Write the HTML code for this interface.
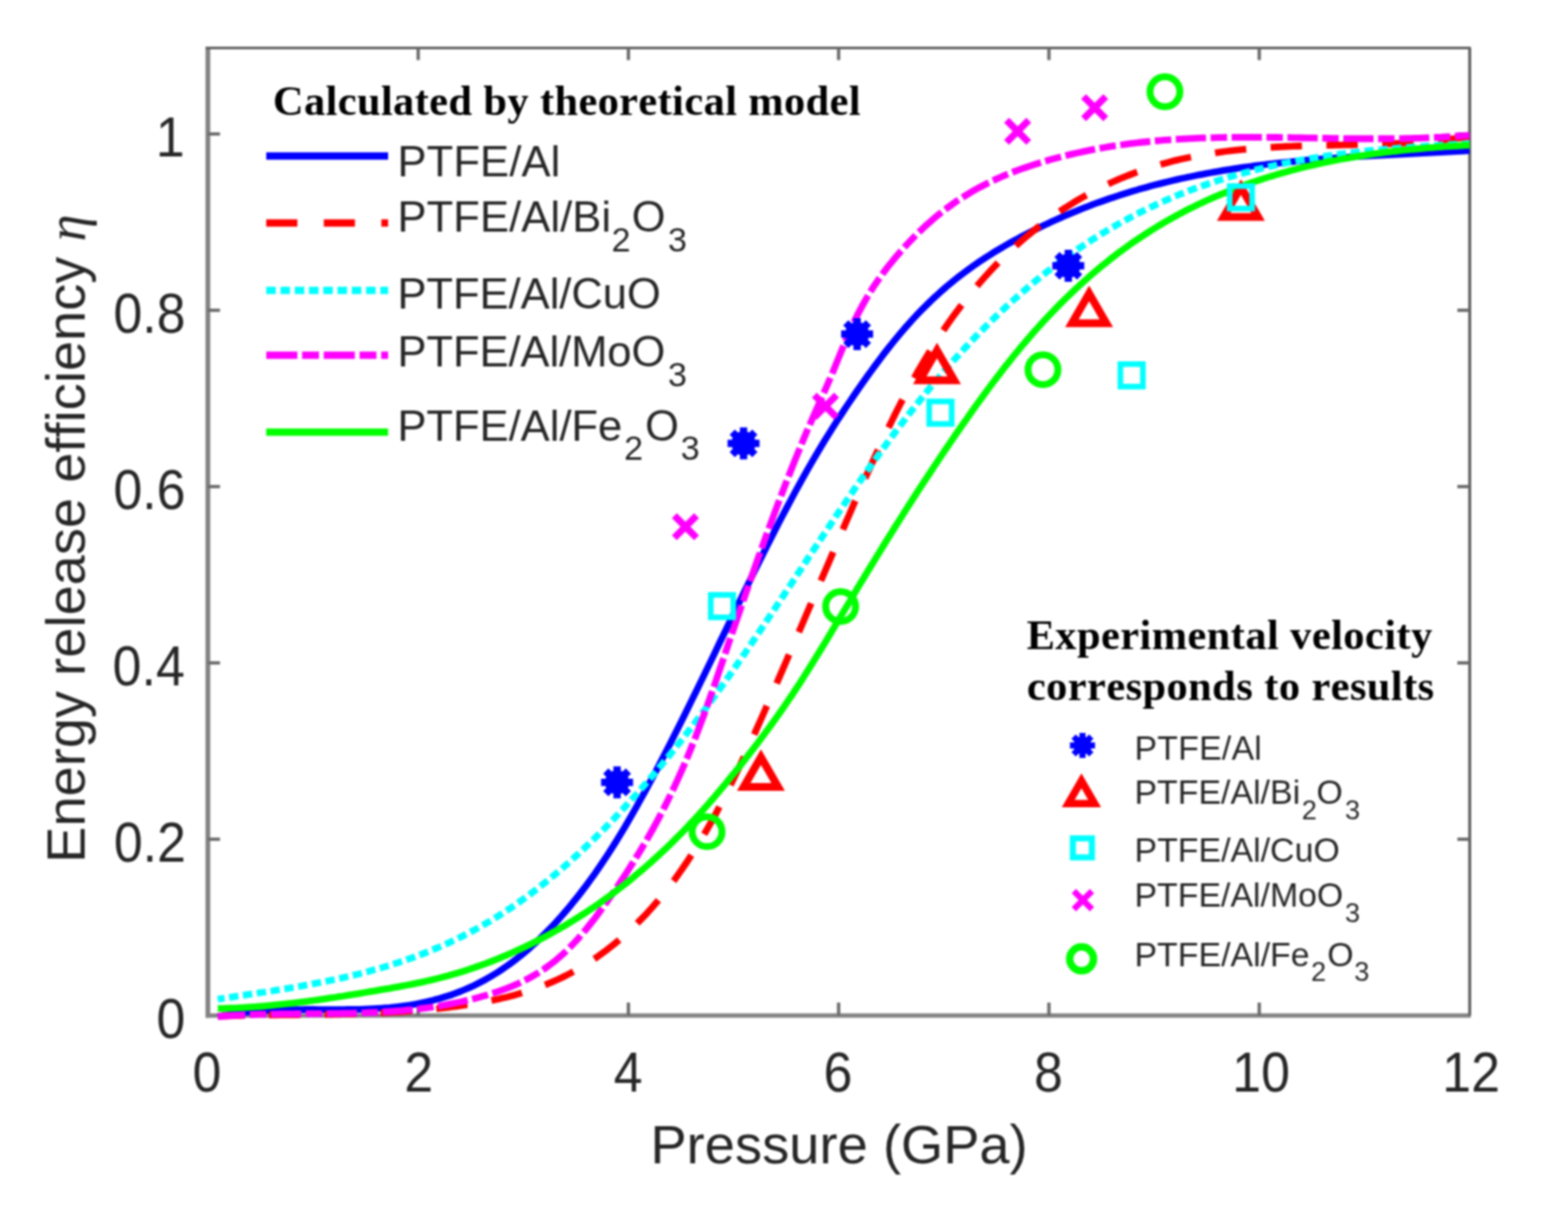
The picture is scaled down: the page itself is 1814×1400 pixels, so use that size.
<!DOCTYPE html><html><head><meta charset="utf-8"><title>Energy release efficiency</title>
<style>html,body{margin:0;padding:0;background:#fff;}svg{display:block;}#w{filter:blur(0.8px);}text{font-kerning:none;font-variant-ligatures:none;}.t{font-family:"Liberation Sans",Arial,Helvetica,sans-serif;fill:#262626;}.b{font-family:"Liberation Serif","Times New Roman",serif;font-weight:bold;fill:#000;}</style></head><body>
<div id="w">
<svg width="1814" height="1400" viewBox="0 0 1814 1400">
<rect x="0" y="0" width="1814" height="1400" fill="#fff"/>
<g fill="none">
<line x1="240.5" y1="54.0" x2="240.5" y2="1177.5" stroke="#828282" stroke-width="5.5"/>
<line x1="238.0" y1="1175.0" x2="1701.5" y2="1175.0" stroke="#828282" stroke-width="5"/>
<line x1="238.0" y1="55.5" x2="1701.5" y2="55.5" stroke="#5e5e5e" stroke-width="3.2"/>
<line x1="1700.3" y1="55.5" x2="1700.3" y2="1175.0" stroke="#5e5e5e" stroke-width="3.4"/>
<g stroke="#6a6a6a" stroke-width="3.8">
<line x1="483.8" y1="1175.0" x2="483.8" y2="1160.0"/>
<line x1="483.8" y1="55.5" x2="483.8" y2="69.5"/>
<line x1="727.0" y1="1175.0" x2="727.0" y2="1160.0"/>
<line x1="727.0" y1="55.5" x2="727.0" y2="69.5"/>
<line x1="970.2" y1="1175.0" x2="970.2" y2="1160.0"/>
<line x1="970.2" y1="55.5" x2="970.2" y2="69.5"/>
<line x1="1213.5" y1="1175.0" x2="1213.5" y2="1160.0"/>
<line x1="1213.5" y1="55.5" x2="1213.5" y2="69.5"/>
<line x1="1456.8" y1="1175.0" x2="1456.8" y2="1160.0"/>
<line x1="1456.8" y1="55.5" x2="1456.8" y2="69.5"/>
<line x1="240.5" y1="971.0" x2="254.5" y2="971.0"/>
<line x1="1700.0" y1="971.0" x2="1686.0" y2="971.0"/>
<line x1="240.5" y1="767.0" x2="254.5" y2="767.0"/>
<line x1="1700.0" y1="767.0" x2="1686.0" y2="767.0"/>
<line x1="240.5" y1="563.0" x2="254.5" y2="563.0"/>
<line x1="1700.0" y1="563.0" x2="1686.0" y2="563.0"/>
<line x1="240.5" y1="359.0" x2="254.5" y2="359.0"/>
<line x1="1700.0" y1="359.0" x2="1686.0" y2="359.0"/>
<line x1="240.5" y1="155.0" x2="254.5" y2="155.0"/>
<line x1="1700.0" y1="155.0" x2="1686.0" y2="155.0"/>
</g></g>
<g fill="none" stroke-linejoin="round">
<path d="M252.0,1176.5 L256.8,1175.5 L261.7,1174.5 L266.5,1173.7 L271.4,1172.9 L276.2,1172.2 L281.1,1171.6 L285.9,1171.0 L290.7,1170.5 L295.6,1170.1 L300.4,1169.7 L305.3,1169.3 L310.1,1169.1 L315.0,1168.8 L319.8,1168.6 L324.6,1168.4 L329.5,1168.3 L334.3,1168.2 L339.2,1168.1 L344.0,1168.1 L348.9,1168.1 L353.7,1168.0 L358.5,1168.0 L363.4,1168.0 L368.2,1168.1 L373.1,1168.1 L377.9,1168.1 L382.8,1168.1 L387.6,1168.1 L392.4,1168.1 L397.3,1168.1 L402.1,1168.0 L407.0,1168.0 L411.8,1167.9 L416.7,1167.8 L421.5,1167.6 L426.3,1167.4 L431.2,1167.2 L436.0,1166.9 L440.9,1166.6 L445.7,1166.2 L450.6,1165.8 L455.4,1165.3 L460.2,1164.8 L465.1,1164.2 L469.9,1163.5 L474.8,1162.8 L479.6,1162.0 L484.5,1161.1 L489.3,1160.1 L494.1,1159.0 L499.0,1157.9 L503.8,1156.6 L508.7,1155.3 L513.5,1153.8 L518.4,1152.3 L523.2,1150.7 L528.0,1148.9 L532.9,1147.0 L537.7,1145.0 L542.6,1142.9 L547.4,1140.7 L552.3,1138.3 L557.1,1135.8 L561.9,1133.2 L566.8,1130.4 L571.6,1127.5 L576.5,1124.5 L581.3,1121.3 L586.2,1117.9 L591.0,1114.5 L595.8,1110.8 L600.7,1107.0 L605.5,1103.1 L610.4,1099.0 L615.2,1094.7 L620.1,1090.3 L624.9,1085.8 L629.7,1081.0 L634.6,1076.1 L639.4,1071.1 L644.3,1065.9 L649.1,1060.5 L654.0,1054.9 L658.8,1049.2 L663.6,1043.3 L668.5,1037.2 L673.3,1031.0 L678.2,1024.6 L683.0,1018.0 L687.9,1011.2 L692.7,1004.3 L697.5,997.1 L702.4,989.8 L707.2,982.3 L712.1,974.6 L716.9,966.7 L721.8,958.7 L726.6,950.5 L731.4,942.1 L736.3,933.6 L741.1,924.9 L746.0,916.1 L750.8,907.2 L755.7,898.2 L760.5,889.0 L765.3,879.7 L770.2,870.4 L775.0,860.9 L779.9,851.3 L784.7,841.7 L789.6,832.0 L794.4,822.2 L799.2,812.4 L804.1,802.5 L808.9,792.6 L813.8,782.6 L818.6,772.6 L823.5,762.6 L828.3,752.6 L833.1,742.5 L838.0,732.5 L842.8,722.5 L847.7,712.4 L852.5,702.4 L857.4,692.5 L862.2,682.5 L867.0,672.6 L871.9,662.8 L876.7,653.0 L881.6,643.3 L886.4,633.6 L891.3,624.0 L896.1,614.5 L900.9,605.1 L905.8,595.8 L910.6,586.6 L915.5,577.5 L920.3,568.5 L925.2,559.7 L930.0,550.9 L934.8,542.4 L939.7,533.9 L944.5,525.7 L949.4,517.6 L954.2,509.6 L959.1,501.7 L963.9,494.0 L968.7,486.5 L973.6,479.0 L978.4,471.6 L983.3,464.4 L988.1,457.3 L992.9,450.2 L997.8,443.3 L1002.6,436.4 L1007.5,429.7 L1012.3,423.1 L1017.2,416.6 L1022.0,410.2 L1026.8,404.0 L1031.7,397.9 L1036.5,391.9 L1041.4,386.1 L1046.2,380.4 L1051.1,374.9 L1055.9,369.5 L1060.7,364.3 L1065.6,359.3 L1070.4,354.4 L1075.3,349.6 L1080.1,345.0 L1085.0,340.6 L1089.8,336.2 L1094.6,332.0 L1099.5,328.0 L1104.3,324.0 L1109.2,320.2 L1114.0,316.5 L1118.9,312.8 L1123.7,309.3 L1128.5,305.9 L1133.4,302.6 L1138.2,299.4 L1143.1,296.3 L1147.9,293.2 L1152.8,290.2 L1157.6,287.3 L1162.4,284.5 L1167.3,281.7 L1172.1,279.0 L1177.0,276.4 L1181.8,273.8 L1186.7,271.2 L1191.5,268.7 L1196.3,266.3 L1201.2,263.9 L1206.0,261.5 L1210.9,259.2 L1215.7,256.9 L1220.6,254.7 L1225.4,252.6 L1230.2,250.4 L1235.1,248.3 L1239.9,246.3 L1244.8,244.3 L1249.6,242.3 L1254.5,240.4 L1259.3,238.6 L1264.1,236.7 L1269.0,234.9 L1273.8,233.2 L1278.7,231.5 L1283.5,229.8 L1288.4,228.2 L1293.2,226.6 L1298.0,225.0 L1302.9,223.5 L1307.7,222.0 L1312.6,220.6 L1317.4,219.1 L1322.3,217.8 L1327.1,216.4 L1331.9,215.1 L1336.8,213.8 L1341.6,212.6 L1346.5,211.4 L1351.3,210.2 L1356.2,209.0 L1361.0,207.9 L1365.8,206.8 L1370.7,205.8 L1375.5,204.7 L1380.4,203.7 L1385.2,202.7 L1390.1,201.8 L1394.9,200.9 L1399.7,200.0 L1404.6,199.1 L1409.4,198.3 L1414.3,197.4 L1419.1,196.6 L1424.0,195.9 L1428.8,195.1 L1433.6,194.4 L1438.5,193.7 L1443.3,193.0 L1448.2,192.4 L1453.0,191.7 L1457.9,191.1 L1462.7,190.5 L1467.5,189.9 L1472.4,189.4 L1477.2,188.8 L1482.1,188.3 L1486.9,187.8 L1491.8,187.3 L1496.6,186.8 L1501.4,186.3 L1506.3,185.9 L1511.1,185.5 L1516.0,185.0 L1520.8,184.6 L1525.7,184.2 L1530.5,183.9 L1535.3,183.5 L1540.2,183.1 L1545.0,182.8 L1549.9,182.5 L1554.7,182.1 L1559.6,181.8 L1564.4,181.5 L1569.2,181.2 L1574.1,180.9 L1578.9,180.6 L1583.8,180.3 L1588.6,180.1 L1593.5,179.8 L1598.3,179.5 L1603.1,179.3 L1608.0,179.0 L1612.8,178.8 L1617.7,178.5 L1622.5,178.3 L1627.4,178.0 L1632.2,177.8 L1637.0,177.6 L1641.9,177.3 L1646.7,177.1 L1651.6,176.8 L1656.4,176.6 L1661.3,176.3 L1666.1,176.1 L1670.9,175.8 L1675.8,175.6 L1680.6,175.3 L1685.5,175.1 L1690.3,174.8 L1695.2,174.5 L1700.0,174.2" stroke="#0000ff" stroke-width="7.8"/>
<path d="M252.0,1175.8 L256.8,1175.6 L261.7,1175.4 L266.5,1175.3 L271.4,1175.2 L276.2,1175.0 L281.1,1174.9 L285.9,1174.8 L290.7,1174.7 L295.6,1174.6 L300.4,1174.6 L305.3,1174.5 L310.1,1174.4 L315.0,1174.4 L319.8,1174.3 L324.6,1174.2 L329.5,1174.2 L334.3,1174.1 L339.2,1174.1 L344.0,1174.0 L348.9,1174.0 L353.7,1173.9 L358.5,1173.9 L363.4,1173.8 L368.2,1173.7 L373.1,1173.7 L377.9,1173.6 L382.8,1173.5 L387.6,1173.4 L392.4,1173.3 L397.3,1173.2 L402.1,1173.1 L407.0,1173.0 L411.8,1172.9 L416.7,1172.7 L421.5,1172.6 L426.3,1172.4 L431.2,1172.2 L436.0,1172.0 L440.9,1171.8 L445.7,1171.6 L450.6,1171.3 L455.4,1171.1 L460.2,1170.8 L465.1,1170.5 L469.9,1170.1 L474.8,1169.8 L479.6,1169.4 L484.5,1169.0 L489.3,1168.6 L494.1,1168.2 L499.0,1167.7 L503.8,1167.2 L508.7,1166.7 L513.5,1166.1 L518.4,1165.6 L523.2,1165.0 L528.0,1164.3 L532.9,1163.7 L537.7,1163.0 L542.6,1162.2 L547.4,1161.5 L552.3,1160.7 L557.1,1159.8 L561.9,1158.9 L566.8,1158.0 L571.6,1157.0 L576.5,1156.0 L581.3,1154.8 L586.2,1153.7 L591.0,1152.5 L595.8,1151.2 L600.7,1149.8 L605.5,1148.3 L610.4,1146.8 L615.2,1145.2 L620.1,1143.5 L624.9,1141.7 L629.7,1139.9 L634.6,1137.9 L639.4,1135.9 L644.3,1133.7 L649.1,1131.4 L654.0,1129.1 L658.8,1126.6 L663.6,1124.0 L668.5,1121.3 L673.3,1118.5 L678.2,1115.5 L683.0,1112.4 L687.9,1109.2 L692.7,1105.9 L697.5,1102.4 L702.4,1098.8 L707.2,1095.0 L712.1,1091.1 L716.9,1087.1 L721.8,1082.8 L726.6,1078.5 L731.4,1073.9 L736.3,1069.2 L741.1,1064.3 L746.0,1059.3 L750.8,1054.0 L755.7,1048.6 L760.5,1042.9 L765.3,1037.1 L770.2,1031.1 L775.0,1024.8 L779.9,1018.4 L784.7,1011.7 L789.6,1004.8 L794.4,997.7 L799.2,990.3 L804.1,982.7 L808.9,974.9 L813.8,966.8 L818.6,958.5 L823.5,949.9 L828.3,941.1 L833.1,931.9 L838.0,922.6 L842.8,913.0 L847.7,903.1 L852.5,893.1 L857.4,882.9 L862.2,872.5 L867.0,861.9 L871.9,851.2 L876.7,840.4 L881.6,829.5 L886.4,818.5 L891.3,807.4 L896.1,796.3 L900.9,785.1 L905.8,773.9 L910.6,762.7 L915.5,751.5 L920.3,740.2 L925.2,729.0 L930.0,717.8 L934.8,706.5 L939.7,695.2 L944.5,684.0 L949.4,672.7 L954.2,661.4 L959.1,650.1 L963.9,638.7 L968.7,627.4 L973.6,616.1 L978.4,604.9 L983.3,593.7 L988.1,582.5 L992.9,571.4 L997.8,560.4 L1002.6,549.5 L1007.5,538.8 L1012.3,528.1 L1017.2,517.6 L1022.0,507.3 L1026.8,497.1 L1031.7,487.1 L1036.5,477.3 L1041.4,467.8 L1046.2,458.4 L1051.1,449.3 L1055.9,440.5 L1060.7,431.8 L1065.6,423.4 L1070.4,415.2 L1075.3,407.3 L1080.1,399.5 L1085.0,392.0 L1089.8,384.7 L1094.6,377.5 L1099.5,370.6 L1104.3,363.8 L1109.2,357.3 L1114.0,350.9 L1118.9,344.7 L1123.7,338.7 L1128.5,332.9 L1133.4,327.2 L1138.2,321.7 L1143.1,316.3 L1147.9,311.1 L1152.8,306.0 L1157.6,301.1 L1162.4,296.3 L1167.3,291.7 L1172.1,287.2 L1177.0,282.8 L1181.8,278.6 L1186.7,274.4 L1191.5,270.4 L1196.3,266.5 L1201.2,262.6 L1206.0,258.9 L1210.9,255.3 L1215.7,251.8 L1220.6,248.4 L1225.4,245.1 L1230.2,241.8 L1235.1,238.7 L1239.9,235.7 L1244.8,232.7 L1249.6,229.8 L1254.5,227.1 L1259.3,224.4 L1264.1,221.8 L1269.0,219.3 L1273.8,216.8 L1278.7,214.5 L1283.5,212.2 L1288.4,210.0 L1293.2,207.9 L1298.0,205.8 L1302.9,203.9 L1307.7,202.0 L1312.6,200.1 L1317.4,198.4 L1322.3,196.7 L1327.1,195.1 L1331.9,193.5 L1336.8,192.0 L1341.6,190.6 L1346.5,189.2 L1351.3,187.9 L1356.2,186.6 L1361.0,185.4 L1365.8,184.3 L1370.7,183.2 L1375.5,182.2 L1380.4,181.2 L1385.2,180.2 L1390.1,179.4 L1394.9,178.5 L1399.7,177.7 L1404.6,177.0 L1409.4,176.3 L1414.3,175.6 L1419.1,175.0 L1424.0,174.4 L1428.8,173.8 L1433.6,173.3 L1438.5,172.8 L1443.3,172.4 L1448.2,171.9 L1453.0,171.6 L1457.9,171.2 L1462.7,170.9 L1467.5,170.5 L1472.4,170.3 L1477.2,170.0 L1482.1,169.8 L1486.9,169.5 L1491.8,169.3 L1496.6,169.1 L1501.4,169.0 L1506.3,168.8 L1511.1,168.7 L1516.0,168.5 L1520.8,168.4 L1525.7,168.3 L1530.5,168.2 L1535.3,168.1 L1540.2,168.0 L1545.0,167.9 L1549.9,167.8 L1554.7,167.7 L1559.6,167.6 L1564.4,167.5 L1569.2,167.4 L1574.1,167.3 L1578.9,167.2 L1583.8,167.1 L1588.6,166.9 L1593.5,166.8 L1598.3,166.6 L1603.1,166.5 L1608.0,166.3 L1612.8,166.1 L1617.7,165.8 L1622.5,165.6 L1627.4,165.3 L1632.2,165.0 L1637.0,164.7 L1641.9,164.4 L1646.7,164.0 L1651.6,163.6 L1656.4,163.2 L1661.3,162.8 L1666.1,162.3 L1670.9,161.8 L1675.8,161.2 L1680.6,160.6 L1685.5,160.0 L1690.3,159.3 L1695.2,158.6 L1700.0,157.9" stroke="#ff0000" stroke-width="7.8" stroke-dasharray="36.3 28.3" stroke-dashoffset="5.42"/>
<path d="M252.0,1156.1 L256.8,1155.3 L261.7,1154.6 L266.5,1153.9 L271.4,1153.1 L276.2,1152.4 L281.1,1151.7 L285.9,1150.9 L290.7,1150.2 L295.6,1149.5 L300.4,1148.7 L305.3,1148.0 L310.1,1147.2 L315.0,1146.5 L319.8,1145.7 L324.6,1144.9 L329.5,1144.1 L334.3,1143.3 L339.2,1142.5 L344.0,1141.7 L348.9,1140.8 L353.7,1139.9 L358.5,1139.1 L363.4,1138.1 L368.2,1137.2 L373.1,1136.3 L377.9,1135.3 L382.8,1134.3 L387.6,1133.3 L392.4,1132.2 L397.3,1131.1 L402.1,1130.0 L407.0,1128.9 L411.8,1127.7 L416.7,1126.5 L421.5,1125.2 L426.3,1124.0 L431.2,1122.6 L436.0,1121.3 L440.9,1119.9 L445.7,1118.4 L450.6,1117.0 L455.4,1115.4 L460.2,1113.9 L465.1,1112.3 L469.9,1110.6 L474.8,1108.9 L479.6,1107.2 L484.5,1105.3 L489.3,1103.5 L494.1,1101.6 L499.0,1099.6 L503.8,1097.6 L508.7,1095.5 L513.5,1093.4 L518.4,1091.2 L523.2,1088.9 L528.0,1086.6 L532.9,1084.3 L537.7,1081.8 L542.6,1079.3 L547.4,1076.7 L552.3,1074.1 L557.1,1071.4 L561.9,1068.6 L566.8,1065.8 L571.6,1062.8 L576.5,1059.8 L581.3,1056.8 L586.2,1053.6 L591.0,1050.4 L595.8,1047.1 L600.7,1043.7 L605.5,1040.3 L610.4,1036.8 L615.2,1033.1 L620.1,1029.5 L624.9,1025.7 L629.7,1021.9 L634.6,1018.0 L639.4,1014.0 L644.3,1009.9 L649.1,1005.8 L654.0,1001.6 L658.8,997.3 L663.6,992.9 L668.5,988.5 L673.3,984.0 L678.2,979.4 L683.0,974.8 L687.9,970.0 L692.7,965.3 L697.5,960.4 L702.4,955.5 L707.2,950.5 L712.1,945.4 L716.9,940.2 L721.8,935.0 L726.6,929.7 L731.4,924.4 L736.3,919.0 L741.1,913.5 L746.0,907.9 L750.8,902.3 L755.7,896.6 L760.5,890.9 L765.3,885.0 L770.2,879.1 L775.0,873.2 L779.9,867.2 L784.7,861.1 L789.6,854.9 L794.4,848.7 L799.2,842.4 L804.1,836.1 L808.9,829.6 L813.8,823.2 L818.6,816.6 L823.5,810.0 L828.3,803.4 L833.1,796.6 L838.0,789.8 L842.8,783.0 L847.7,776.1 L852.5,769.1 L857.4,762.1 L862.2,755.1 L867.0,748.0 L871.9,740.8 L876.7,733.7 L881.6,726.4 L886.4,719.2 L891.3,711.9 L896.1,704.7 L900.9,697.4 L905.8,690.0 L910.6,682.7 L915.5,675.4 L920.3,668.0 L925.2,660.7 L930.0,653.3 L934.8,646.0 L939.7,638.6 L944.5,631.3 L949.4,624.0 L954.2,616.7 L959.1,609.5 L963.9,602.2 L968.7,595.0 L973.6,587.8 L978.4,580.7 L983.3,573.6 L988.1,566.5 L992.9,559.5 L997.8,552.5 L1002.6,545.6 L1007.5,538.8 L1012.3,532.0 L1017.2,525.2 L1022.0,518.6 L1026.8,512.0 L1031.7,505.4 L1036.5,498.9 L1041.4,492.5 L1046.2,486.2 L1051.1,479.9 L1055.9,473.7 L1060.7,467.6 L1065.6,461.5 L1070.4,455.5 L1075.3,449.6 L1080.1,443.8 L1085.0,438.1 L1089.8,432.4 L1094.6,426.8 L1099.5,421.3 L1104.3,415.8 L1109.2,410.5 L1114.0,405.2 L1118.9,400.0 L1123.7,394.8 L1128.5,389.8 L1133.4,384.8 L1138.2,379.9 L1143.1,375.0 L1147.9,370.3 L1152.8,365.6 L1157.6,360.9 L1162.4,356.4 L1167.3,351.9 L1172.1,347.5 L1177.0,343.2 L1181.8,338.9 L1186.7,334.7 L1191.5,330.6 L1196.3,326.6 L1201.2,322.6 L1206.0,318.7 L1210.9,314.8 L1215.7,311.1 L1220.6,307.4 L1225.4,303.7 L1230.2,300.2 L1235.1,296.7 L1239.9,293.2 L1244.8,289.8 L1249.6,286.5 L1254.5,283.3 L1259.3,280.1 L1264.1,277.0 L1269.0,273.9 L1273.8,270.9 L1278.7,268.0 L1283.5,265.1 L1288.4,262.3 L1293.2,259.5 L1298.0,256.8 L1302.9,254.2 L1307.7,251.6 L1312.6,249.0 L1317.4,246.5 L1322.3,244.1 L1327.1,241.7 L1331.9,239.4 L1336.8,237.1 L1341.6,234.9 L1346.5,232.7 L1351.3,230.6 L1356.2,228.5 L1361.0,226.5 L1365.8,224.5 L1370.7,222.6 L1375.5,220.7 L1380.4,218.9 L1385.2,217.1 L1390.1,215.4 L1394.9,213.7 L1399.7,212.0 L1404.6,210.4 L1409.4,208.8 L1414.3,207.3 L1419.1,205.8 L1424.0,204.3 L1428.8,202.9 L1433.6,201.5 L1438.5,200.2 L1443.3,198.9 L1448.2,197.6 L1453.0,196.4 L1457.9,195.2 L1462.7,194.1 L1467.5,192.9 L1472.4,191.9 L1477.2,190.8 L1482.1,189.8 L1486.9,188.8 L1491.8,187.8 L1496.6,186.9 L1501.4,186.0 L1506.3,185.1 L1511.1,184.3 L1516.0,183.4 L1520.8,182.7 L1525.7,181.9 L1530.5,181.1 L1535.3,180.4 L1540.2,179.7 L1545.0,179.1 L1549.9,178.4 L1554.7,177.8 L1559.6,177.2 L1564.4,176.6 L1569.2,176.1 L1574.1,175.5 L1578.9,175.0 L1583.8,174.5 L1588.6,174.0 L1593.5,173.5 L1598.3,173.1 L1603.1,172.6 L1608.0,172.2 L1612.8,171.8 L1617.7,171.4 L1622.5,171.0 L1627.4,170.6 L1632.2,170.3 L1637.0,169.9 L1641.9,169.6 L1646.7,169.3 L1651.6,169.0 L1656.4,168.6 L1661.3,168.3 L1666.1,168.0 L1670.9,167.7 L1675.8,167.5 L1680.6,167.2 L1685.5,166.9 L1690.3,166.6 L1695.2,166.4 L1700.0,166.1" stroke="#00ffff" stroke-width="7.8" stroke-dasharray="10.77 5.38" stroke-dashoffset="2.87"/>
<path d="M252.0,1176.2 L256.8,1175.8 L261.7,1175.5 L266.5,1175.2 L271.4,1174.9 L276.2,1174.6 L281.1,1174.4 L285.9,1174.2 L290.7,1174.0 L295.6,1173.8 L300.4,1173.7 L305.3,1173.6 L310.1,1173.5 L315.0,1173.4 L319.8,1173.3 L324.6,1173.2 L329.5,1173.1 L334.3,1173.1 L339.2,1173.1 L344.0,1173.0 L348.9,1173.0 L353.7,1172.9 L358.5,1172.9 L363.4,1172.9 L368.2,1172.8 L373.1,1172.8 L377.9,1172.8 L382.8,1172.7 L387.6,1172.7 L392.4,1172.6 L397.3,1172.5 L402.1,1172.4 L407.0,1172.3 L411.8,1172.2 L416.7,1172.0 L421.5,1171.9 L426.3,1171.7 L431.2,1171.5 L436.0,1171.3 L440.9,1171.0 L445.7,1170.7 L450.6,1170.4 L455.4,1170.1 L460.2,1169.7 L465.1,1169.3 L469.9,1168.8 L474.8,1168.4 L479.6,1167.9 L484.5,1167.3 L489.3,1166.7 L494.1,1166.1 L499.0,1165.4 L503.8,1164.6 L508.7,1163.9 L513.5,1163.0 L518.4,1162.1 L523.2,1161.2 L528.0,1160.2 L532.9,1159.2 L537.7,1158.1 L542.6,1156.9 L547.4,1155.7 L552.3,1154.4 L557.1,1153.1 L561.9,1151.7 L566.8,1150.2 L571.6,1148.7 L576.5,1147.1 L581.3,1145.4 L586.2,1143.6 L591.0,1141.7 L595.8,1139.6 L600.7,1137.5 L605.5,1135.1 L610.4,1132.7 L615.2,1130.0 L620.1,1127.2 L624.9,1124.2 L629.7,1121.0 L634.6,1117.5 L639.4,1113.9 L644.3,1109.9 L649.1,1105.8 L654.0,1101.3 L658.8,1096.6 L663.6,1091.6 L668.5,1086.4 L673.3,1080.8 L678.2,1075.0 L683.0,1069.0 L687.9,1062.8 L692.7,1056.4 L697.5,1049.7 L702.4,1043.0 L707.2,1036.0 L712.1,1029.0 L716.9,1021.8 L721.8,1014.4 L726.6,1007.0 L731.4,999.4 L736.3,991.6 L741.1,983.7 L746.0,975.5 L750.8,967.1 L755.7,958.5 L760.5,949.6 L765.3,940.4 L770.2,930.9 L775.0,921.1 L779.9,910.9 L784.7,900.4 L789.6,889.5 L794.4,878.1 L799.2,866.4 L804.1,854.3 L808.9,841.6 L813.8,828.6 L818.6,815.2 L823.5,801.4 L828.3,787.5 L833.1,773.3 L838.0,759.1 L842.8,744.8 L847.7,730.6 L852.5,716.4 L857.4,702.3 L862.2,688.3 L867.0,674.4 L871.9,660.6 L876.7,646.9 L881.6,633.3 L886.4,619.9 L891.3,606.6 L896.1,593.5 L900.9,580.6 L905.8,567.8 L910.6,555.3 L915.5,543.0 L920.3,530.9 L925.2,519.0 L930.0,507.3 L934.8,496.0 L939.7,484.8 L944.5,473.9 L949.4,463.0 L954.2,452.0 L959.1,440.8 L963.9,429.4 L968.7,417.6 L973.6,405.7 L978.4,394.1 L983.3,382.8 L988.1,372.3 L992.9,362.5 L997.8,353.3 L1002.6,344.8 L1007.5,336.7 L1012.3,329.2 L1017.2,322.2 L1022.0,315.5 L1026.8,309.1 L1031.7,303.1 L1036.5,297.2 L1041.4,291.6 L1046.2,286.1 L1051.1,280.9 L1055.9,275.8 L1060.7,270.9 L1065.6,266.2 L1070.4,261.7 L1075.3,257.3 L1080.1,253.1 L1085.0,249.1 L1089.8,245.2 L1094.6,241.5 L1099.5,238.0 L1104.3,234.5 L1109.2,231.2 L1114.0,228.1 L1118.9,225.1 L1123.7,222.2 L1128.5,219.4 L1133.4,216.7 L1138.2,214.2 L1143.1,211.7 L1147.9,209.4 L1152.8,207.1 L1157.6,205.0 L1162.4,202.9 L1167.3,200.9 L1172.1,199.0 L1177.0,197.2 L1181.8,195.4 L1186.7,193.7 L1191.5,192.1 L1196.3,190.5 L1201.2,189.0 L1206.0,187.5 L1210.9,186.0 L1215.7,184.6 L1220.6,183.3 L1225.4,182.0 L1230.2,180.7 L1235.1,179.5 L1239.9,178.4 L1244.8,177.2 L1249.6,176.2 L1254.5,175.1 L1259.3,174.1 L1264.1,173.2 L1269.0,172.2 L1273.8,171.4 L1278.7,170.5 L1283.5,169.7 L1288.4,168.9 L1293.2,168.2 L1298.0,167.5 L1302.9,166.8 L1307.7,166.2 L1312.6,165.6 L1317.4,165.0 L1322.3,164.5 L1327.1,164.0 L1331.9,163.5 L1336.8,163.0 L1341.6,162.6 L1346.5,162.2 L1351.3,161.8 L1356.2,161.5 L1361.0,161.2 L1365.8,160.9 L1370.7,160.6 L1375.5,160.4 L1380.4,160.1 L1385.2,159.9 L1390.1,159.7 L1394.9,159.6 L1399.7,159.4 L1404.6,159.3 L1409.4,159.2 L1414.3,159.1 L1419.1,159.0 L1424.0,158.9 L1428.8,158.9 L1433.6,158.9 L1438.5,158.8 L1443.3,158.8 L1448.2,158.8 L1453.0,158.8 L1457.9,158.9 L1462.7,158.9 L1467.5,158.9 L1472.4,159.0 L1477.2,159.0 L1482.1,159.1 L1486.9,159.2 L1491.8,159.2 L1496.6,159.3 L1501.4,159.4 L1506.3,159.5 L1511.1,159.6 L1516.0,159.6 L1520.8,159.7 L1525.7,159.8 L1530.5,159.9 L1535.3,160.0 L1540.2,160.1 L1545.0,160.1 L1549.9,160.2 L1554.7,160.3 L1559.6,160.3 L1564.4,160.4 L1569.2,160.4 L1574.1,160.5 L1578.9,160.5 L1583.8,160.5 L1588.6,160.5 L1593.5,160.5 L1598.3,160.5 L1603.1,160.5 L1608.0,160.5 L1612.8,160.4 L1617.7,160.4 L1622.5,160.3 L1627.4,160.2 L1632.2,160.1 L1637.0,159.9 L1641.9,159.8 L1646.7,159.6 L1651.6,159.4 L1656.4,159.2 L1661.3,159.0 L1666.1,158.8 L1670.9,158.5 L1675.8,158.2 L1680.6,157.9 L1685.5,157.5 L1690.3,157.2 L1695.2,156.8 L1700.0,156.3" stroke="#ff00ff" stroke-width="7.8" stroke-dasharray="35 5.3 19 5.3" stroke-dashoffset="3.08"/>
<path d="M252.0,1166.9 L256.8,1166.8 L261.7,1166.7 L266.5,1166.5 L271.4,1166.3 L276.2,1166.1 L281.1,1165.8 L285.9,1165.5 L290.7,1165.2 L295.6,1164.9 L300.4,1164.5 L305.3,1164.1 L310.1,1163.7 L315.0,1163.2 L319.8,1162.7 L324.6,1162.2 L329.5,1161.7 L334.3,1161.2 L339.2,1160.6 L344.0,1160.0 L348.9,1159.4 L353.7,1158.8 L358.5,1158.2 L363.4,1157.5 L368.2,1156.8 L373.1,1156.1 L377.9,1155.4 L382.8,1154.7 L387.6,1154.0 L392.4,1153.2 L397.3,1152.5 L402.1,1151.7 L407.0,1150.9 L411.8,1150.1 L416.7,1149.3 L421.5,1148.5 L426.3,1147.7 L431.2,1146.9 L436.0,1146.1 L440.9,1145.2 L445.7,1144.4 L450.6,1143.6 L455.4,1142.7 L460.2,1141.8 L465.1,1140.9 L469.9,1140.0 L474.8,1139.1 L479.6,1138.1 L484.5,1137.1 L489.3,1136.1 L494.1,1135.0 L499.0,1133.9 L503.8,1132.7 L508.7,1131.5 L513.5,1130.2 L518.4,1128.9 L523.2,1127.6 L528.0,1126.2 L532.9,1124.7 L537.7,1123.2 L542.6,1121.6 L547.4,1120.0 L552.3,1118.3 L557.1,1116.6 L561.9,1114.8 L566.8,1113.0 L571.6,1111.1 L576.5,1109.2 L581.3,1107.2 L586.2,1105.1 L591.0,1103.0 L595.8,1100.8 L600.7,1098.6 L605.5,1096.4 L610.4,1094.0 L615.2,1091.7 L620.1,1089.2 L624.9,1086.7 L629.7,1084.2 L634.6,1081.6 L639.4,1078.9 L644.3,1076.2 L649.1,1073.4 L654.0,1070.6 L658.8,1067.7 L663.6,1064.7 L668.5,1061.7 L673.3,1058.6 L678.2,1055.4 L683.0,1052.2 L687.9,1048.9 L692.7,1045.6 L697.5,1042.1 L702.4,1038.6 L707.2,1035.1 L712.1,1031.4 L716.9,1027.7 L721.8,1024.0 L726.6,1020.1 L731.4,1016.2 L736.3,1012.1 L741.1,1008.1 L746.0,1003.9 L750.8,999.6 L755.7,995.3 L760.5,990.9 L765.3,986.4 L770.2,981.8 L775.0,977.2 L779.9,972.4 L784.7,967.6 L789.6,962.7 L794.4,957.6 L799.2,952.5 L804.1,947.4 L808.9,942.1 L813.8,936.7 L818.6,931.2 L823.5,925.6 L828.3,920.0 L833.1,914.3 L838.0,908.4 L842.8,902.5 L847.7,896.6 L852.5,890.6 L857.4,884.5 L862.2,878.3 L867.0,872.1 L871.9,865.8 L876.7,859.5 L881.6,853.0 L886.4,846.5 L891.3,839.9 L896.1,833.2 L900.9,826.4 L905.8,819.4 L910.6,812.4 L915.5,805.3 L920.3,798.0 L925.2,790.6 L930.0,783.0 L934.8,775.4 L939.7,767.6 L944.5,759.8 L949.4,751.9 L954.2,743.9 L959.1,735.9 L963.9,727.8 L968.7,719.7 L973.6,711.6 L978.4,703.5 L983.3,695.4 L988.1,687.2 L992.9,679.1 L997.8,671.1 L1002.6,663.1 L1007.5,655.1 L1012.3,647.2 L1017.2,639.3 L1022.0,631.4 L1026.8,623.6 L1031.7,615.9 L1036.5,608.1 L1041.4,600.5 L1046.2,592.8 L1051.1,585.2 L1055.9,577.7 L1060.7,570.2 L1065.6,562.7 L1070.4,555.3 L1075.3,548.0 L1080.1,540.7 L1085.0,533.4 L1089.8,526.2 L1094.6,519.0 L1099.5,511.9 L1104.3,504.8 L1109.2,497.8 L1114.0,490.8 L1118.9,483.9 L1123.7,477.0 L1128.5,470.3 L1133.4,463.5 L1138.2,456.9 L1143.1,450.3 L1147.9,443.8 L1152.8,437.4 L1157.6,431.1 L1162.4,424.8 L1167.3,418.7 L1172.1,412.6 L1177.0,406.7 L1181.8,400.8 L1186.7,395.1 L1191.5,389.4 L1196.3,383.9 L1201.2,378.5 L1206.0,373.1 L1210.9,367.9 L1215.7,362.8 L1220.6,357.7 L1225.4,352.8 L1230.2,348.0 L1235.1,343.2 L1239.9,338.6 L1244.8,334.0 L1249.6,329.5 L1254.5,325.1 L1259.3,320.8 L1264.1,316.6 L1269.0,312.5 L1273.8,308.5 L1278.7,304.6 L1283.5,300.7 L1288.4,296.9 L1293.2,293.2 L1298.0,289.6 L1302.9,286.1 L1307.7,282.6 L1312.6,279.3 L1317.4,276.0 L1322.3,272.7 L1327.1,269.6 L1331.9,266.5 L1336.8,263.5 L1341.6,260.5 L1346.5,257.7 L1351.3,254.9 L1356.2,252.1 L1361.0,249.5 L1365.8,246.9 L1370.7,244.3 L1375.5,241.8 L1380.4,239.4 L1385.2,237.1 L1390.1,234.8 L1394.9,232.5 L1399.7,230.3 L1404.6,228.2 L1409.4,226.1 L1414.3,224.1 L1419.1,222.1 L1424.0,220.2 L1428.8,218.3 L1433.6,216.5 L1438.5,214.7 L1443.3,212.9 L1448.2,211.2 L1453.0,209.6 L1457.9,208.0 L1462.7,206.4 L1467.5,204.9 L1472.4,203.4 L1477.2,201.9 L1482.1,200.5 L1486.9,199.2 L1491.8,197.8 L1496.6,196.5 L1501.4,195.3 L1506.3,194.0 L1511.1,192.8 L1516.0,191.7 L1520.8,190.6 L1525.7,189.5 L1530.5,188.4 L1535.3,187.4 L1540.2,186.4 L1545.0,185.5 L1549.9,184.5 L1554.7,183.6 L1559.6,182.8 L1564.4,181.9 L1569.2,181.1 L1574.1,180.3 L1578.9,179.6 L1583.8,178.9 L1588.6,178.2 L1593.5,177.5 L1598.3,176.8 L1603.1,176.2 L1608.0,175.6 L1612.8,175.0 L1617.7,174.5 L1622.5,173.9 L1627.4,173.4 L1632.2,172.9 L1637.0,172.5 L1641.9,172.0 L1646.7,171.6 L1651.6,171.2 L1656.4,170.8 L1661.3,170.4 L1666.1,170.0 L1670.9,169.7 L1675.8,169.4 L1680.6,169.1 L1685.5,168.8 L1690.3,168.5 L1695.2,168.2 L1700.0,168.0" stroke="#00ff00" stroke-width="7.8"/>
</g>
<text class="t" transform="translate(180.98,1200.60) scale(0.93,1)" font-size="64.5">0</text>
<text class="t" transform="translate(131.63,996.60) scale(0.93,1)" font-size="64.5">0.2</text>
<text class="t" transform="translate(130.37,792.60) scale(0.93,1)" font-size="64.5">0.4</text>
<text class="t" transform="translate(131.25,588.60) scale(0.93,1)" font-size="64.5">0.6</text>
<text class="t" transform="translate(131.22,384.60) scale(0.93,1)" font-size="64.5">0.8</text>
<text class="t" transform="translate(180.17,180.60) scale(0.93,1)" font-size="64.5">1</text>
<text class="t" transform="translate(222.72,1262.5) scale(0.93,1)" font-size="64.5">0</text>
<text class="t" transform="translate(467.82,1262.5) scale(0.93,1)" font-size="64.5">2</text>
<text class="t" transform="translate(710.11,1262.5) scale(0.93,1)" font-size="64.5">4</text>
<text class="t" transform="translate(952.71,1262.5) scale(0.93,1)" font-size="64.5">6</text>
<text class="t" transform="translate(1196.32,1262.5) scale(0.93,1)" font-size="64.5">8</text>
<text class="t" transform="translate(1425.53,1262.5) scale(0.93,1)" font-size="64.5">10</text>
<text class="t" transform="translate(1668.56,1262.5) scale(0.93,1)" font-size="64.5">12</text>
<text class="t" x="752.45" y="1345.8" font-size="62.8" textLength="436.55" lengthAdjust="spacing">Pressure (GPa)</text>
<text class="t" transform="translate(97.6,998.13) rotate(-90)" x="0" y="0" font-size="62.5" letter-spacing="0.122">Energy release efficiency <tspan font-family="'Liberation Serif',serif" font-style="italic">η</tspan></text>
<text class="b" transform="scale(1.0,1)" x="315.81" y="132.7" font-size="49" textLength="679.73" lengthAdjust="spacing">Calculated by theoretical model</text>
<line x1="308" y1="180.5" x2="449" y2="180.5" stroke="#0000ff" stroke-width="8.5"/>
<text class="t"><tspan x="459.66" y="203.50" font-size="50.5" textLength="188.62" lengthAdjust="spacing">PTFE/Al</tspan></text>
<line x1="308" y1="258" x2="449" y2="258" stroke="#ff0000" stroke-width="8.5" stroke-dasharray="36 30.6"/>
<text class="t"><tspan x="459.66" y="268.20" font-size="50.5" textLength="247.35" lengthAdjust="spacing">PTFE/Al/Bi</tspan><tspan x="707.41" y="290.50" font-size="39.5">2</tspan><tspan x="730.71" y="268.20" font-size="50.5">O</tspan><tspan x="772.70" y="290.50" font-size="39.5">3</tspan></text>
<line x1="308" y1="336" x2="449" y2="336" stroke="#00ffff" stroke-width="8.5" stroke-dasharray="11 5.5"/>
<text class="t"><tspan x="459.66" y="357.00" font-size="50.5" textLength="304.96" lengthAdjust="spacing">PTFE/Al/CuO</tspan></text>
<line x1="308" y1="411" x2="449" y2="411" stroke="#ff00ff" stroke-width="8.5" stroke-dasharray="36 5.5 19.5 5.5"/>
<text class="t"><tspan x="459.66" y="424.20" font-size="50.5" textLength="310.16" lengthAdjust="spacing">PTFE/Al/MoO</tspan><tspan x="772.80" y="446.50" font-size="39.5">3</tspan></text>
<line x1="308" y1="500" x2="449" y2="500" stroke="#00ff00" stroke-width="8.5"/>
<text class="t"><tspan x="459.66" y="509.80" font-size="50.5" textLength="260.29" lengthAdjust="spacing">PTFE/Al/Fe</tspan><tspan x="722.01" y="532.10" font-size="39.5">2</tspan><tspan x="746.21" y="509.80" font-size="50.5">O</tspan><tspan x="787.60" y="532.10" font-size="39.5">3</tspan></text>
<text class="b" transform="scale(1.0,1)" x="1187.66" y="750.8" font-size="49" textLength="469.22" lengthAdjust="spacing">Experimental velocity</text>
<text class="b" transform="scale(1.0,1)" x="1188.03" y="810.4" font-size="49" textLength="471.17" lengthAdjust="spacing">corresponds to results</text>
<text class="t"><tspan x="1312.48" y="878.90" font-size="39.2" textLength="147.24" lengthAdjust="spacing">PTFE/Al</tspan></text>
<text class="t"><tspan x="1312.48" y="930.10" font-size="39.2">PTFE/Al/Bi</tspan><tspan x="1505.92" y="947.60" font-size="31.4">2</tspan><tspan x="1523.04" y="930.10" font-size="39.2">O</tspan><tspan x="1556.00" y="947.60" font-size="31.4">3</tspan></text>
<text class="t"><tspan x="1312.48" y="997.20" font-size="39.2" textLength="237.49" lengthAdjust="spacing">PTFE/Al/CuO</tspan></text>
<text class="t"><tspan x="1312.48" y="1049.30" font-size="39.2" textLength="241.59" lengthAdjust="spacing">PTFE/Al/MoO</tspan><tspan x="1556.00" y="1066.80" font-size="31.4">3</tspan></text>
<text class="t"><tspan x="1312.48" y="1117.90" font-size="39.2" textLength="202.56" lengthAdjust="spacing">PTFE/Al/Fe</tspan><tspan x="1516.72" y="1135.40" font-size="31.4">2</tspan><tspan x="1535.44" y="1117.90" font-size="39.2">O</tspan><tspan x="1566.70" y="1135.40" font-size="31.4">3</tspan></text>
<g fill="#0000ff" stroke="#0000ff" stroke-width="8.5" stroke-linecap="butt"><circle cx="713.9" cy="905.2" r="14" stroke="none"/><line x1="695.40" y1="905.20" x2="732.40" y2="905.20"/><line x1="700.82" y1="892.12" x2="726.98" y2="918.28"/><line x1="713.90" y1="886.70" x2="713.90" y2="923.70"/><line x1="726.98" y1="892.12" x2="700.82" y2="918.28"/></g>
<g fill="#0000ff" stroke="#0000ff" stroke-width="8.5" stroke-linecap="butt"><circle cx="860.2" cy="513" r="14" stroke="none"/><line x1="841.70" y1="513.00" x2="878.70" y2="513.00"/><line x1="847.12" y1="499.92" x2="873.28" y2="526.08"/><line x1="860.20" y1="494.50" x2="860.20" y2="531.50"/><line x1="873.28" y1="499.92" x2="847.12" y2="526.08"/></g>
<g fill="#0000ff" stroke="#0000ff" stroke-width="8.5" stroke-linecap="butt"><circle cx="991.6" cy="386.6" r="14" stroke="none"/><line x1="973.10" y1="386.60" x2="1010.10" y2="386.60"/><line x1="978.52" y1="373.52" x2="1004.68" y2="399.68"/><line x1="991.60" y1="368.10" x2="991.60" y2="405.10"/><line x1="1004.68" y1="373.52" x2="978.52" y2="399.68"/></g>
<g fill="#0000ff" stroke="#0000ff" stroke-width="8.5" stroke-linecap="butt"><circle cx="1235.9" cy="307.5" r="14" stroke="none"/><line x1="1217.40" y1="307.50" x2="1254.40" y2="307.50"/><line x1="1222.82" y1="294.42" x2="1248.98" y2="320.58"/><line x1="1235.90" y1="289.00" x2="1235.90" y2="326.00"/><line x1="1248.98" y1="294.42" x2="1222.82" y2="320.58"/></g>
<path d="M880.30,867.00 L908.01,915.00 L852.59,915.00 Z M868.18,906.00 L892.42,906.00 L880.30,885.00 Z" fill="#ff0000" fill-rule="evenodd"/>
<path d="M1084.00,396.50 L1111.71,444.50 L1056.29,444.50 Z M1071.88,435.50 L1096.12,435.50 L1084.00,414.50 Z" fill="#ff0000" fill-rule="evenodd"/>
<path d="M1260.00,330.50 L1287.71,378.50 L1232.29,378.50 Z M1247.88,369.50 L1272.12,369.50 L1260.00,348.50 Z" fill="#ff0000" fill-rule="evenodd"/>
<path d="M1435.60,207.50 L1463.31,255.50 L1407.89,255.50 Z M1423.48,246.50 L1447.72,246.50 L1435.60,225.50 Z" fill="#ff0000" fill-rule="evenodd"/>
<rect x="822.3" y="688.3" width="26" height="26" fill="none" stroke="#00ffff" stroke-width="6.5"/>
<rect x="1075.0" y="464.5" width="26" height="26" fill="none" stroke="#00ffff" stroke-width="6.5"/>
<rect x="1296.2" y="421.3" width="26" height="26" fill="none" stroke="#00ffff" stroke-width="6.5"/>
<rect x="1422.6" y="215.3" width="26" height="26" fill="none" stroke="#00ffff" stroke-width="6.5"/>
<g stroke="#ff00ff" stroke-width="8" stroke-linecap="square"><line x1="783" y1="599.4" x2="803" y2="619.4"/><line x1="783" y1="619.4" x2="803" y2="599.4"/></g>
<g stroke="#ff00ff" stroke-width="8" stroke-linecap="square"><line x1="945" y1="460" x2="965" y2="480"/><line x1="945" y1="480" x2="965" y2="460"/></g>
<g stroke="#ff00ff" stroke-width="8" stroke-linecap="square"><line x1="1167.3" y1="141.9" x2="1187.3" y2="161.9"/><line x1="1167.3" y1="161.9" x2="1187.3" y2="141.9"/></g>
<g stroke="#ff00ff" stroke-width="8" stroke-linecap="square"><line x1="1256.4" y1="114.6" x2="1276.4" y2="134.6"/><line x1="1256.4" y1="134.6" x2="1276.4" y2="114.6"/></g>
<circle cx="818" cy="962.3" r="17.3" fill="none" stroke="#00ff00" stroke-width="8"/>
<circle cx="972.5" cy="701.7" r="17.3" fill="none" stroke="#00ff00" stroke-width="8"/>
<circle cx="1206.6" cy="427.7" r="17.3" fill="none" stroke="#00ff00" stroke-width="8"/>
<circle cx="1347.7" cy="106.1" r="17.3" fill="none" stroke="#00ff00" stroke-width="8"/>
<g fill="#0000ff" stroke="#0000ff" stroke-width="7" stroke-linecap="butt"><circle cx="1252.3" cy="862.5" r="10.5" stroke="none"/><line x1="1237.80" y1="862.50" x2="1266.80" y2="862.50"/><line x1="1242.05" y1="852.25" x2="1262.55" y2="872.75"/><line x1="1252.30" y1="848.00" x2="1252.30" y2="877.00"/><line x1="1262.55" y1="852.25" x2="1242.05" y2="872.75"/></g>
<path d="M1251.10,894.80 L1273.79,934.10 L1228.41,934.10 Z M1243.31,925.50 L1258.89,925.50 L1251.10,912.00 Z" fill="#ff0000" fill-rule="evenodd"/>
<rect x="1241.2" y="970.0" width="22" height="22" fill="none" stroke="#00ffff" stroke-width="7"/>
<g stroke="#ff00ff" stroke-width="7" stroke-linecap="square"><line x1="1244.8" y1="1033.5" x2="1260.8" y2="1049.5"/><line x1="1244.8" y1="1049.5" x2="1260.8" y2="1033.5"/></g>
<circle cx="1251.3" cy="1109.4" r="13.8" fill="none" stroke="#00ff00" stroke-width="8.5"/>
</svg></div></body></html>
